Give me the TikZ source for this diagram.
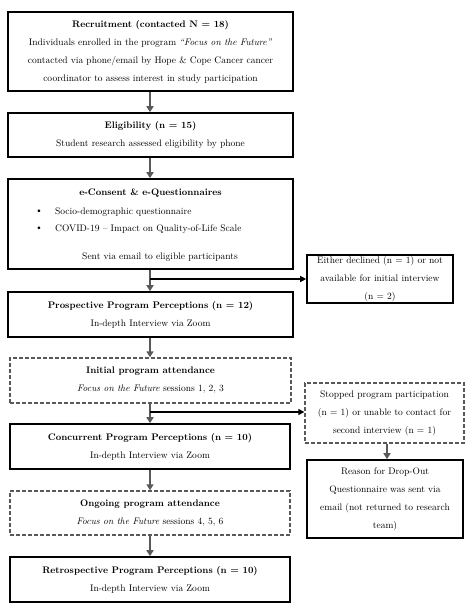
\documentclass[tikz,border=0pt]{standalone}
\usetikzlibrary{arrows.meta}
\definecolor{arrgray}{HTML}{595959}
\begin{document}
\begin{tikzpicture}[x=1pt,y=-1pt,
  every node/.style={font=\fontsize{9.5}{18}\selectfont, inner sep=0pt},
  solidbox/.style={draw=black, line width=1.6pt, minimum width=#1, align=center},
  dashbox/.style={draw=arrgray, dashed, dash pattern=on 4pt off 2pt, line width=1.4pt, minimum width=#1, align=center},
  flow/.style={draw=arrgray, line width=2.4pt, -{Triangle[length=6pt,width=7pt]}},
  branch/.style={draw=black, line width=1.3pt, -{Triangle[length=6pt,width=6pt]}}
]
\useasboundingbox (0,0) rectangle (474,616);
% main column
\node[solidbox=285pt, minimum height=79pt] (b1) at (150.5,51.5) {};
\node[align=center] (b1t) at (150.5,51.5) {\textbf{Recruitment (contacted N = 18)}\\
Individuals enrolled in the program \textit{``Focus on the Future''}\\
contacted via phone/email by Hope \& Cope Cancer cancer\\
coordinator to assess interest in study participation};

\node[solidbox=285pt, minimum height=44pt] (b2) at (150.5,135) {};
\node[align=center] (b2t) at (150.5,135) {\textbf{Eligibility (n = 15)}\\
Student research assessed eligibility by phone};

\node[solidbox=285pt, minimum height=90pt] (b3) at (150.5,224) {};
\node (b3t) at (150.5,193) {\textbf{e-Consent \& e-Questionnaires}};
\node (b3a) at (39,212) {\textbullet};
\node[anchor=west] (b3at) at (55,212) {Socio-demographic questionnaire};
\node (b3b) at (39,229) {\textbullet};
\node[anchor=west] (b3bt) at (55,229) {COVID-19 -- Impact on Quality-of-Life Scale};
\node (b3c) at (160,257) {Sent via email to eligible participants};

\node[solidbox=285pt, minimum height=45pt] (b4) at (150.5,314.5) {};
\node[align=center] (b4t) at (150.5,314.5) {\textbf{Prospective Program Perceptions (n = 12)}\\
In-depth Interview via Zoom};

\node[dashbox=281pt, minimum height=45pt] (b5) at (150.5,380.5) {};
\node[align=center] (b5t) at (150.5,380.5) {\textbf{Initial program attendance}\\
\textit{Focus on the Future} sessions 1, 2, 3};

\node[solidbox=280pt, minimum height=45pt] (b6) at (150,446.5) {};
\node[align=center] (b6t) at (150,446.5) {\textbf{Concurrent Program Perceptions (n = 10)}\\
In-depth Interview via Zoom};

\node[dashbox=280pt, minimum height=44pt] (b7) at (150,513) {};
\node[align=center] (b7t) at (150,513) {\textbf{Ongoing program attendance}\\
\textit{Focus on the Future} sessions 4, 5, 6};

\node[solidbox=280pt, minimum height=45pt] (b8) at (150,579.5) {};
\node[align=center] (b8t) at (150,579.5) {\textbf{Retrospective Program Perceptions (n = 10)}\\
In-depth Interview via Zoom};

% side column
\node[solidbox=146pt, minimum height=48pt] (s1) at (380,279) {};
\node[align=center] (s1t) at (380,279) {Either declined (n = 1) or not\\
available for initial interview\\ (n = 2)};

\node[dashbox=159pt, minimum height=60pt] (s2) at (384.5,413) {};
\node[align=center] (s2t) at (384.5,413) {Stopped program participation\\
(n = 1) or unable to contact for\\ second interview (n = 1)};

\node[solidbox=156pt, minimum height=78pt] (s3) at (385,499) {};
\node[align=center] (s3t) at (385,499) {Reason for Drop-Out\\
Questionnaire was sent via\\ email (not returned to research\\ team)};

% connectors
\draw[flow] (b1.south -| 150,0) -- (b2.north -| 150,0);
\draw[flow] (b2.south -| 150,0) -- (b3.north -| 150,0);
\draw[flow] (b3.south -| 150,0) -- (b4.north -| 150,0);
\draw[flow] (b4.south -| 150,0) -- (b5.north -| 150,0);
\draw[flow] (b5.south -| 150,0) -- (b6.north -| 150,0);
\draw[flow] (b6.south -| 150,0) -- (b7.north -| 150,0);
\draw[flow] (b7.south -| 150,0) -- (b8.north -| 150,0);
\coordinate (j1) at (150,279);
\coordinate (j2) at (150,412);
\draw[branch] (j1) -- (s1.west);
\draw[branch] (j2) -- (j2 -| s2.west);
\draw[flow] (s2.south -| 387,0) -- (s3.north -| 387,0);
\end{tikzpicture}
\end{document}
